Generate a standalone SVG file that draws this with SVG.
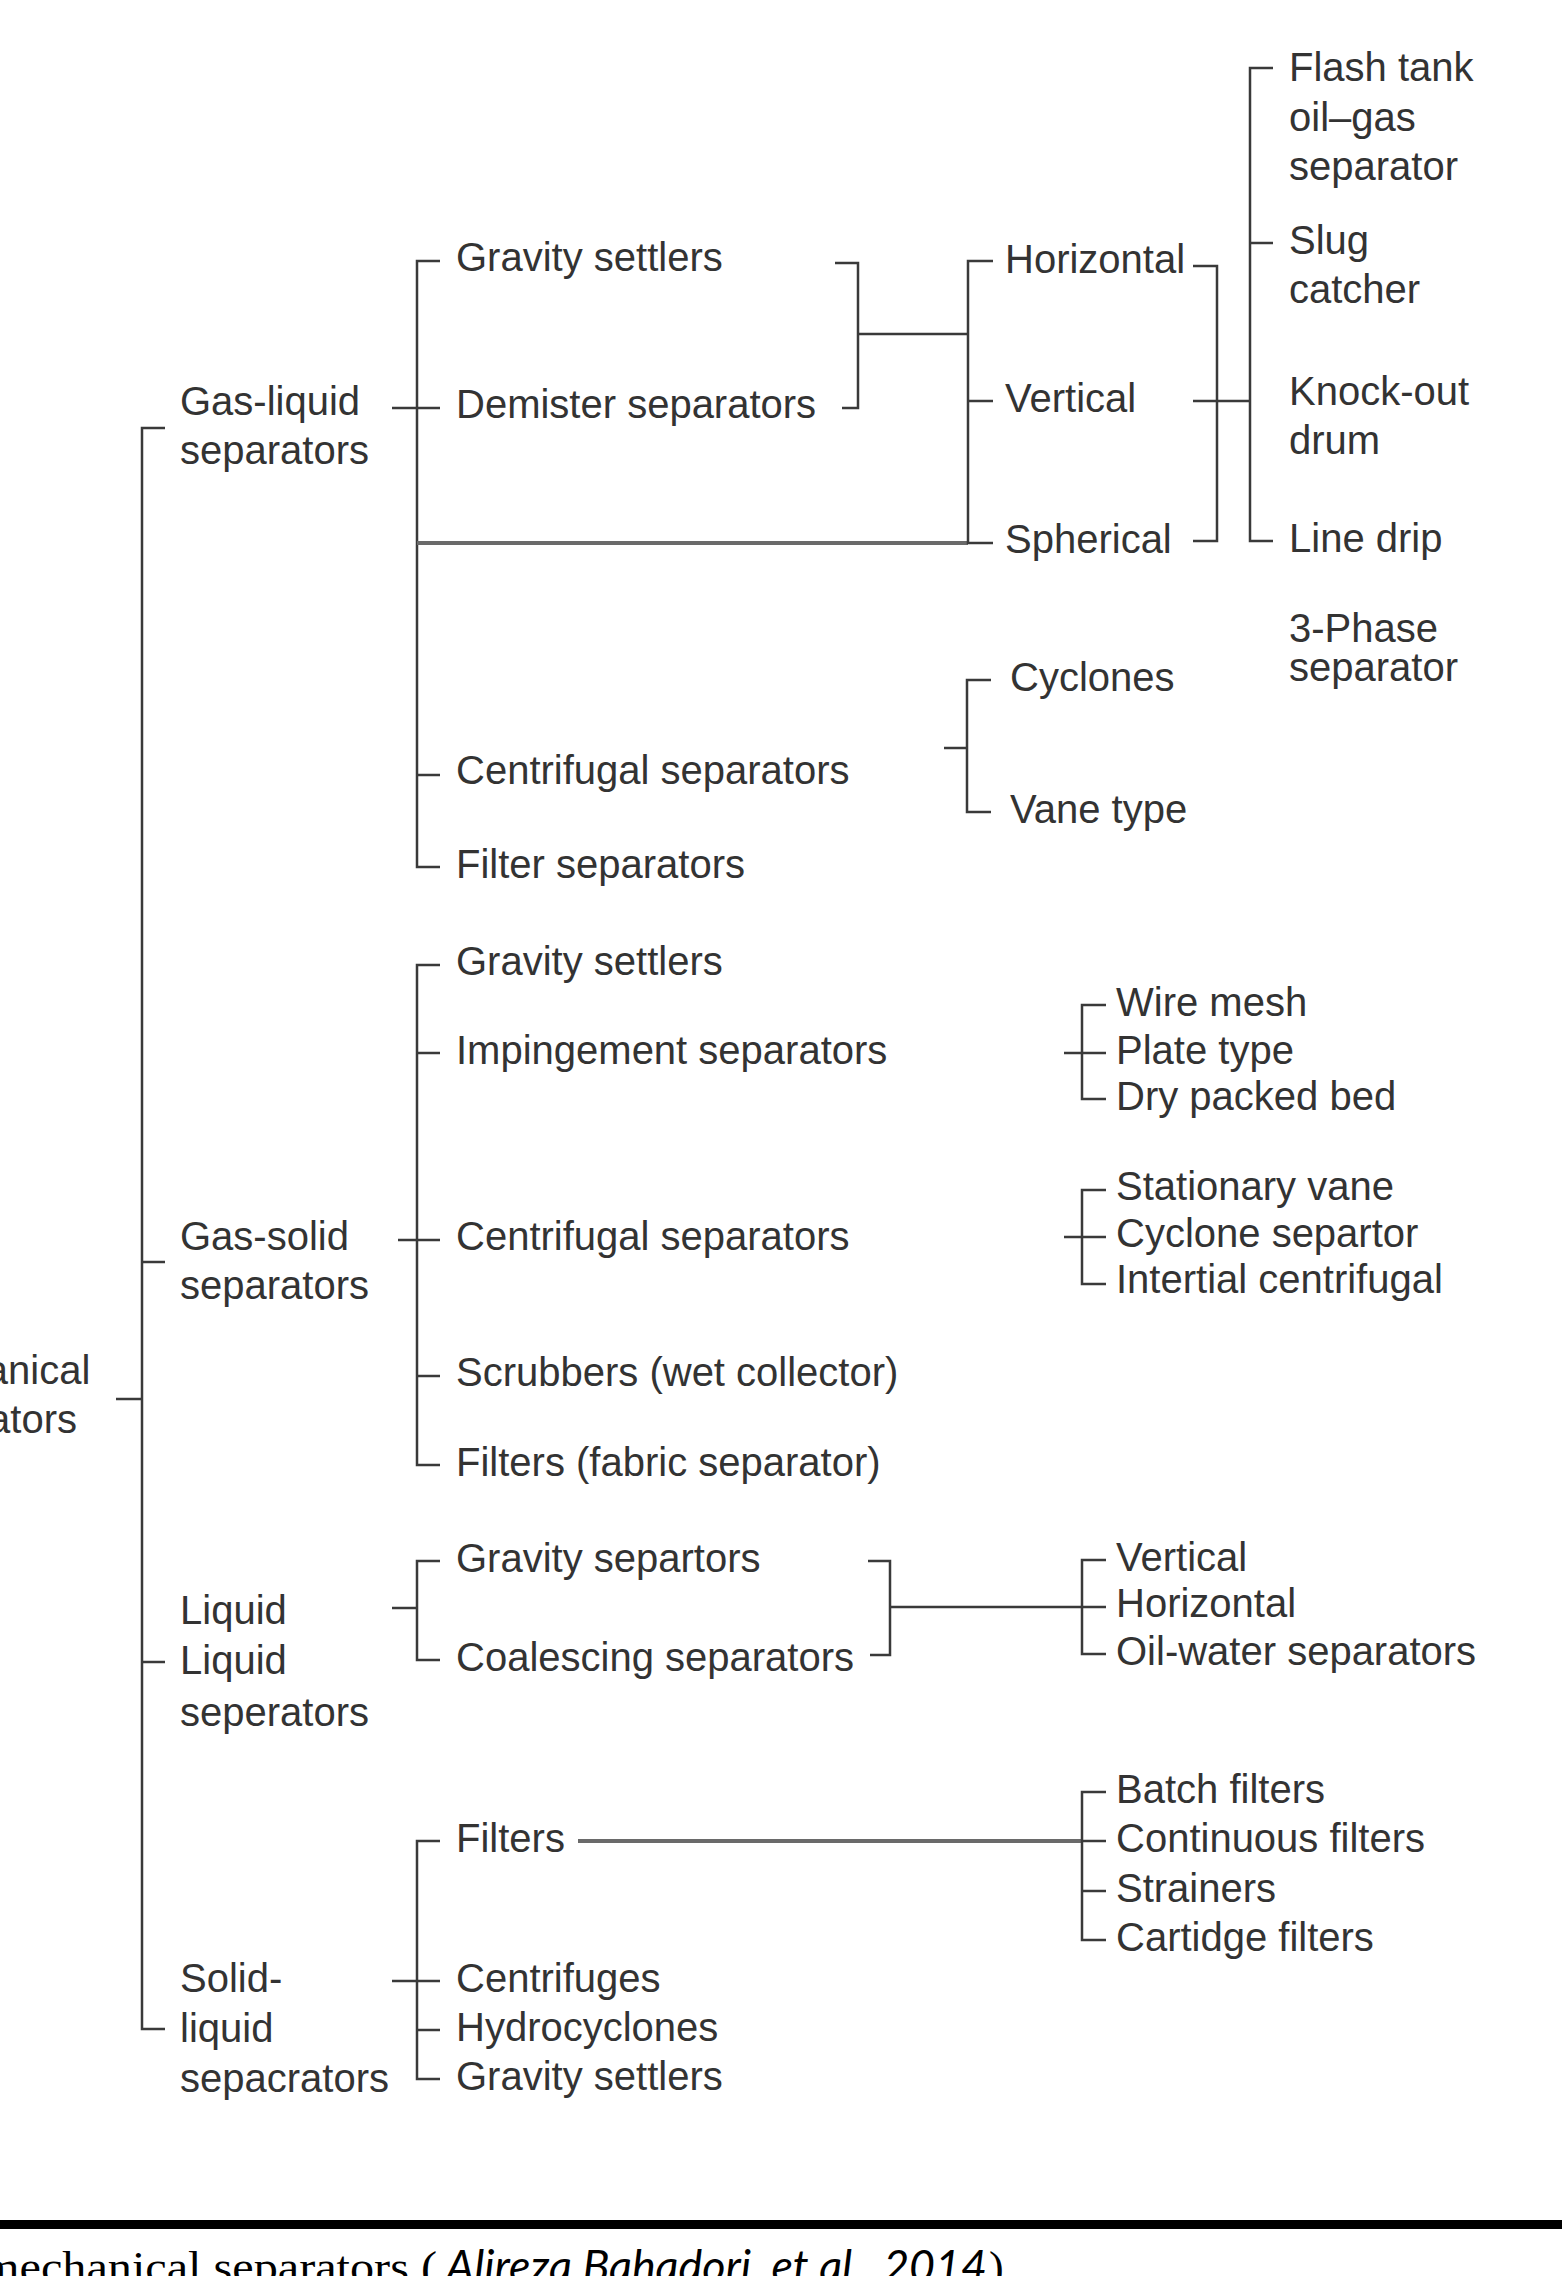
<svg xmlns="http://www.w3.org/2000/svg" width="1562" height="2276" viewBox="0 0 1562 2276">
<style>
  text { font-family: "Liberation Sans", Arial, sans-serif; font-size: 40px; fill: #333333; }
  .ln { fill: none; stroke: #3a3a3a; stroke-width: 2.5; }
  .lg { fill: none; stroke: #6a6a6a; stroke-width: 4; }
  .cap { font-family: "Liberation Serif", "Times New Roman", serif; font-size: 44px; fill: #000000; }
  .capi { font-family: Lato, "Liberation Sans", sans-serif; font-style: italic; font-size: 44px; fill: #000000; }
</style>
<rect x="0" y="0" width="1562" height="2276" fill="#ffffff"/>

<g id="connectors">
  <!-- root bracket -->
  <path class="ln" d="M116,1399 H142"/>
  <path class="ln" d="M165,428 H142 V2029 H165"/>
  <path class="ln" d="M142,1262 H165"/>
  <path class="ln" d="M142,1662 H165"/>
  <!-- gas-liquid -->
  <path class="ln" d="M440,261 H417 V867 H440"/>
  <path class="ln" d="M392,408 H440"/>
  <path class="ln" d="M417,775 H440"/>
  <path class="lg" d="M417,543 H968"/>
  <path class="ln" d="M835,263 H858 V408 H842"/>
  <path class="ln" d="M858,334 H968"/>
  <path class="ln" d="M993,261 H968 V543 H993"/>
  <path class="ln" d="M968,401 H993"/>
  <path class="ln" d="M1193,266 H1217 V541 H1193"/>
  <path class="ln" d="M1193,401 H1250"/>
  <path class="ln" d="M1273,68 H1250 V541 H1273"/>
  <path class="ln" d="M1250,243 H1273"/>
  <path class="ln" d="M991,680 H967 V812 H991"/>
  <path class="ln" d="M944,748 H967"/>
  <!-- gas-solid -->
  <path class="ln" d="M440,965 H417 V1465 H440"/>
  <path class="ln" d="M417,1053 H440"/>
  <path class="ln" d="M398,1240 H440"/>
  <path class="ln" d="M417,1376 H440"/>
  <path class="ln" d="M1106,1005 H1082 V1099 H1106"/>
  <path class="ln" d="M1064,1053 H1106"/>
  <path class="ln" d="M1106,1190 H1082 V1284 H1106"/>
  <path class="ln" d="M1064,1237 H1106"/>
  <!-- liquid-liquid -->
  <path class="ln" d="M440,1561 H417 V1660 H440"/>
  <path class="ln" d="M392,1608 H417"/>
  <path class="ln" d="M868,1561 H890 V1655 H870"/>
  <path class="ln" d="M890,1607 H1106"/>
  <path class="ln" d="M1106,1560 H1082 V1654 H1106"/>
  <!-- solid-liquid -->
  <path class="ln" d="M440,1841 H417 V2079 H440"/>
  <path class="ln" d="M392,1981 H440"/>
  <path class="ln" d="M417,2030 H440"/>
  <path class="lg" d="M578,1841 H1082"/>
  <path class="ln" d="M1082,1841 H1106"/>
  <path class="ln" d="M1106,1792 H1082 V1940 H1106"/>
  <path class="ln" d="M1082,1891 H1106"/>
</g>

<g id="root"><text x="-112" y="1384">Mechanical</text><text x="-112" y="1433">separators</text></g>

<g id="gas-liquid"><text x="180" y="415">Gas-liquid</text><text x="180" y="464">separators</text></g>
<g id="gl-gravity"><text x="456" y="271">Gravity settlers</text></g>
<g id="gl-demister"><text x="456" y="418">Demister separators</text></g>
<g id="gl-centrifugal"><text x="456" y="784">Centrifugal separators</text></g>
<g id="gl-filter"><text x="456" y="878">Filter separators</text></g>
<g id="horizontal"><text x="1005" y="273">Horizontal</text></g>
<g id="vertical"><text x="1005" y="412">Vertical</text></g>
<g id="spherical"><text x="1005" y="553">Spherical</text></g>
<g id="flash-tank"><text x="1289" y="81">Flash tank</text><text x="1289" y="131">oil–gas</text><text x="1289" y="180">separator</text></g>
<g id="slug-catcher"><text x="1289" y="254">Slug</text><text x="1289" y="303">catcher</text></g>
<g id="knock-out"><text x="1289" y="405">Knock-out</text><text x="1289" y="454">drum</text></g>
<g id="line-drip"><text x="1289" y="552">Line drip</text></g>
<g id="three-phase"><text x="1289" y="642">3-Phase</text><text x="1289" y="681">separator</text></g>
<g id="cyclones"><text x="1010" y="691">Cyclones</text></g>
<g id="vane-type"><text x="1010" y="823">Vane type</text></g>

<g id="gas-solid"><text x="180" y="1250">Gas-solid</text><text x="180" y="1299">separators</text></g>
<g id="gs-gravity"><text x="456" y="975">Gravity settlers</text></g>
<g id="gs-impingement"><text x="456" y="1064">Impingement separators</text></g>
<g id="gs-centrifugal"><text x="456" y="1250">Centrifugal separators</text></g>
<g id="gs-scrubbers"><text x="456" y="1386">Scrubbers (wet collector)</text></g>
<g id="gs-filters"><text x="456" y="1476">Filters (fabric separator)</text></g>
<g id="wire-mesh"><text x="1116" y="1016">Wire mesh</text></g>
<g id="plate-type"><text x="1116" y="1064">Plate type</text></g>
<g id="dry-packed"><text x="1116" y="1110">Dry packed bed</text></g>
<g id="stationary-vane"><text x="1116" y="1200">Stationary vane</text></g>
<g id="cyclone-separtor"><text x="1116" y="1247">Cyclone separtor</text></g>
<g id="intertial"><text x="1116" y="1293">Intertial centrifugal</text></g>

<g id="liquid-liquid"><text x="180" y="1624">Liquid</text><text x="180" y="1674">Liquid</text><text x="180" y="1726">seperators</text></g>
<g id="ll-gravity"><text x="456" y="1572">Gravity separtors</text></g>
<g id="ll-coalescing"><text x="456" y="1671">Coalescing separators</text></g>
<g id="ll-vertical"><text x="1116" y="1571">Vertical</text></g>
<g id="ll-horizontal"><text x="1116" y="1617">Horizontal</text></g>
<g id="ll-oilwater"><text x="1116" y="1665">Oil-water separators</text></g>

<g id="solid-liquid"><text x="180" y="1992">Solid-</text><text x="180" y="2042">liquid</text><text x="180" y="2092">sepacrators</text></g>
<g id="sl-filters"><text x="456" y="1852">Filters</text></g>
<g id="sl-centrifuges"><text x="456" y="1992">Centrifuges</text></g>
<g id="sl-hydrocyclones"><text x="456" y="2041">Hydrocyclones</text></g>
<g id="sl-gravity"><text x="456" y="2090">Gravity settlers</text></g>
<g id="batch"><text x="1116" y="1803">Batch filters</text></g>
<g id="continuous"><text x="1116" y="1852">Continuous filters</text></g>
<g id="strainers"><text x="1116" y="1902">Strainers</text></g>
<g id="cartidge"><text x="1116" y="1951">Cartidge filters</text></g>

<g id="caption">
  <rect x="0" y="2220" width="1562" height="9" fill="#000000"/>
  <text class="cap" x="-18" y="2282" textLength="455" lengthAdjust="spacingAndGlyphs">mechanical separators (</text>
  <text class="capi" x="446" y="2282" textLength="541" lengthAdjust="spacingAndGlyphs">Alireza Bahadori, et al., 2014</text>
  <text class="cap" x="989" y="2282">)</text>
</g>
</svg>
